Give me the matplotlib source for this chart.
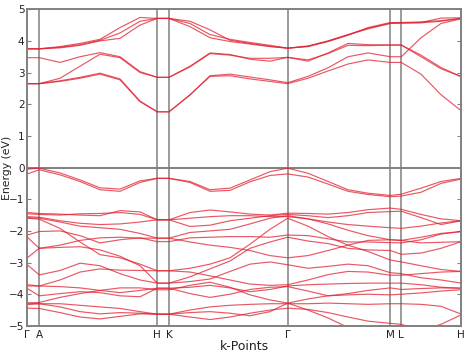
import matplotlib
matplotlib.use('Agg')
import matplotlib.pyplot as plt

# k-path sample positions (arbitrary path units) and high-symmetry points
kpath = [0.0, 0.12, 0.327, 0.527, 0.727, 0.927, 1.127, 1.30,
         1.417, 1.627, 1.827, 2.027, 2.227, 2.427, 2.604,
         2.807, 3.007, 3.207, 3.407, 3.63,
         3.74, 3.937, 4.137, 4.34]
hs_pos = [0.0, 0.12, 1.30, 1.417, 2.604, 3.63, 3.74, 4.34]
hs_labels = ['Γ', 'A', 'H', 'K', 'Γ', 'M', 'L', 'H']

# conduction bands (eV)
c1 = [3.75, 3.75, 3.82, 3.92, 4.05, 4.42, 4.74, 4.71, 4.71, 4.62, 4.35, 4.02, 3.92, 3.83, 3.77, 3.84, 4.0, 4.2, 4.4, 4.56, 4.57, 4.58, 4.72, 4.73]
c2 = [3.75, 3.75, 3.8, 3.88, 4.02, 4.25, 4.62, 4.71, 4.71, 4.55, 4.2, 4.05, 3.95, 3.86, 3.77, 3.82, 3.98, 4.18, 4.42, 4.58, 4.58, 4.6, 4.64, 4.71]
c3 = [3.75, 3.75, 3.78, 3.86, 4.0, 4.08, 4.5, 4.71, 4.71, 4.45, 4.1, 3.98, 3.9, 3.82, 3.77, 3.83, 3.99, 4.19, 4.38, 4.55, 4.56, 4.57, 4.62, 4.71]
c4 = [3.47, 3.47, 3.32, 3.5, 3.63, 3.5, 3.03, 2.85, 2.85, 3.2, 3.62, 3.57, 3.42, 3.36, 3.48, 3.36, 3.62, 3.92, 3.88, 3.87, 3.87, 3.5, 3.12, 2.87]
c5 = [2.65, 2.65, 2.82, 3.2, 3.58, 3.47, 3.0, 2.85, 2.85, 3.18, 3.6, 3.55, 3.45, 3.45, 3.48, 3.4, 3.6, 3.86, 3.85, 3.87, 3.87, 3.55, 3.16, 2.87]
c6 = [2.65, 2.65, 2.72, 2.82, 2.95, 2.77, 2.08, 1.76, 1.76, 2.29, 2.9, 2.95, 2.86, 2.77, 2.68, 2.88, 3.15, 3.5, 3.62, 3.5, 3.5, 4.1, 4.55, 4.7]
c7 = [2.65, 2.65, 2.74, 2.85, 2.98, 2.8, 2.1, 1.76, 1.76, 2.3, 2.88, 2.9, 2.8, 2.72, 2.65, 2.82, 3.05, 3.27, 3.4, 3.32, 3.32, 2.95, 2.3, 1.79]

# valence bands (eV)
v1 = [-0.05, -0.02, -0.17, -0.39, -0.64, -0.68, -0.42, -0.34, -0.34, -0.44, -0.70, -0.65, -0.39, -0.13, -0.02, -0.18, -0.44, -0.70, -0.81, -0.88, -0.84, -0.65, -0.44, -0.34]
v2 = [-0.20, -0.07, -0.23, -0.44, -0.70, -0.75, -0.47, -0.34, -0.34, -0.47, -0.75, -0.72, -0.45, -0.25, -0.20, -0.30, -0.52, -0.75, -0.85, -0.92, -0.90, -0.78, -0.50, -0.36]
v3 = [-1.42, -1.45, -1.47, -1.50, -1.52, -1.36, -1.40, -1.65, -1.65, -1.42, -1.34, -1.40, -1.47, -1.50, -1.44, -1.45, -1.47, -1.42, -1.33, -1.28, -1.32, -1.48, -1.62, -1.68]
v4 = [-1.46, -1.48, -1.50, -1.46, -1.45, -1.42, -1.48, -1.65, -1.65, -1.86, -1.82, -1.68, -1.60, -1.52, -1.48, -1.52, -1.58, -1.52, -1.42, -1.39, -1.38, -1.58, -1.80, -1.68]
v5 = [-1.55, -1.57, -1.68, -1.76, -1.80, -1.78, -1.72, -1.65, -1.65, -1.60, -1.55, -1.52, -1.52, -1.55, -1.55, -1.62, -1.72, -1.80, -1.85, -1.90, -1.92, -1.85, -1.75, -1.68]
v6 = [-1.58, -1.60, -1.72, -1.85, -1.90, -1.95, -2.08, -2.23, -2.23, -2.05, -2.0, -1.95, -1.78, -1.60, -1.52, -1.62, -1.78, -1.98, -2.15, -2.28, -2.30, -2.20, -2.08, -2.02]
v7 = [-1.60, -1.63, -1.92, -2.35, -2.75, -2.85, -3.05, -3.26, -3.26, -3.18, -3.05, -2.85, -2.42, -1.95, -1.60, -1.85, -2.18, -2.45, -2.65, -2.92, -2.98, -3.10, -3.22, -3.28]
v8 = [-2.13, -2.02, -2.0, -2.15, -2.38, -2.28, -2.22, -2.34, -2.34, -2.22, -2.20, -2.18, -2.18, -2.20, -2.13, -2.15, -2.25, -2.35, -2.35, -2.37, -2.38, -2.28, -2.10, -2.02]
v9 = [-2.20, -2.55, -2.52, -2.50, -2.60, -2.80, -3.10, -3.65, -3.65, -3.45, -3.20, -2.95, -2.55, -2.35, -2.20, -2.32, -2.40, -2.55, -2.60, -2.62, -2.74, -2.70, -2.55, -2.34]
v10 = [-2.85, -2.55, -2.45, -2.30, -2.22, -2.20, -2.23, -2.23, -2.23, -2.35, -2.45, -2.52, -2.62, -2.78, -2.85, -2.78, -2.62, -2.45, -2.30, -2.28, -2.30, -2.38, -2.36, -2.34]
v11 = [-3.07, -3.39, -3.25, -3.02, -3.10, -3.35, -3.55, -3.65, -3.65, -3.60, -3.52, -3.28, -3.05, -2.98, -3.07, -3.18, -3.12, -3.05, -3.10, -3.32, -3.35, -3.48, -3.55, -3.65]
v12 = [-3.70, -3.74, -3.55, -3.30, -3.20, -3.24, -3.25, -3.26, -3.26, -3.30, -3.42, -3.55, -3.68, -3.72, -3.70, -3.55, -3.38, -3.28, -3.30, -3.40, -3.40, -3.35, -3.30, -3.28]
v13 = [-3.74, -3.74, -3.76, -3.80, -3.88, -3.95, -3.88, -3.81, -3.81, -3.78, -3.72, -3.80, -3.92, -3.85, -3.74, -3.70, -3.68, -3.66, -3.65, -3.65, -3.65, -3.70, -3.78, -3.81]
v14 = [-3.82, -4.05, -3.98, -3.92, -3.95, -4.05, -4.08, -3.81, -3.81, -3.98, -4.10, -4.00, -3.85, -3.78, -3.76, -3.90, -4.05, -3.98, -3.88, -3.80, -3.85, -3.82, -3.80, -3.81]
v15 = [-4.28, -4.26, -4.10, -3.98, -3.88, -3.80, -3.80, -3.86, -3.86, -3.72, -3.62, -3.78, -4.02, -4.18, -4.28, -4.15, -4.05, -4.02, -4.00, -4.02, -4.00, -3.96, -3.90, -3.86]
v16 = [-4.33, -4.30, -4.30, -4.35, -4.40, -4.45, -4.55, -4.63, -4.63, -4.50, -4.40, -4.35, -4.32, -4.30, -4.30, -4.30, -4.28, -4.30, -4.32, -4.30, -4.30, -4.32, -4.38, -4.63]
v17 = [-4.44, -4.45, -4.58, -4.72, -4.78, -4.70, -4.62, -4.63, -4.63, -4.72, -4.80, -4.72, -4.60, -4.50, -4.44, -4.48, -4.58, -4.72, -4.85, -4.92, -4.95, -5.15, -4.95, -4.65]
v18 = [-4.28, -4.30, -4.40, -4.55, -4.62, -4.58, -4.60, -4.63, -4.63, -4.58, -4.55, -4.60, -4.68, -4.55, -4.28, -4.50, -4.75, -5.05, -5.30, -5.50, -5.50, -5.50, -5.40, -5.20]

bands = [c1, c2, c3, c4, c5, c6, c7,
         v1, v2, v3, v4, v5, v6, v7, v8, v9, v10, v11, v12, v13, v14, v15, v16, v17, v18]

fig = plt.figure(figsize=(4.74, 3.55), dpi=100)
ax = fig.add_axes([0.0576, 0.082, 0.9156, 0.892])

for b in bands:
    ax.plot(kpath, b, color='#e02030', lw=0.85, alpha=0.75, solid_joinstyle='round')

grey = '#808080'
for k in hs_pos[1:-1]:
    ax.axvline(k, color=grey, lw=1.1, zorder=0)
ax.axhline(0, color=grey, lw=1.4, zorder=0)

ax.set_xlim(hs_pos[0], hs_pos[-1])
ax.set_ylim(-5, 5)
ax.set_yticks(range(-5, 6))
ax.set_xticks(hs_pos)
ax.set_xticklabels(hs_labels)
ax.tick_params(axis='y', direction='in', length=3, width=0.8, color=grey,
               left=True, right=True, labelsize=7.5, pad=2, labelcolor='#222222')
ax.tick_params(axis='x', length=0, labelsize=7.5, pad=3, labelcolor='#222222')
for s in ax.spines.values():
    s.set_color(grey)
    s.set_linewidth(1.4)

ax.set_ylabel('Energy (eV)', fontsize=7.8, color='#222222')
ax.yaxis.set_label_coords(-0.035, 0.5)
ax.set_xlabel('k-Points', fontsize=9, color='#222222')
ax.xaxis.set_label_coords(0.5, -0.045)
ax.xaxis.label.set_va('top')

fig.savefig('out.png', dpi=100)
